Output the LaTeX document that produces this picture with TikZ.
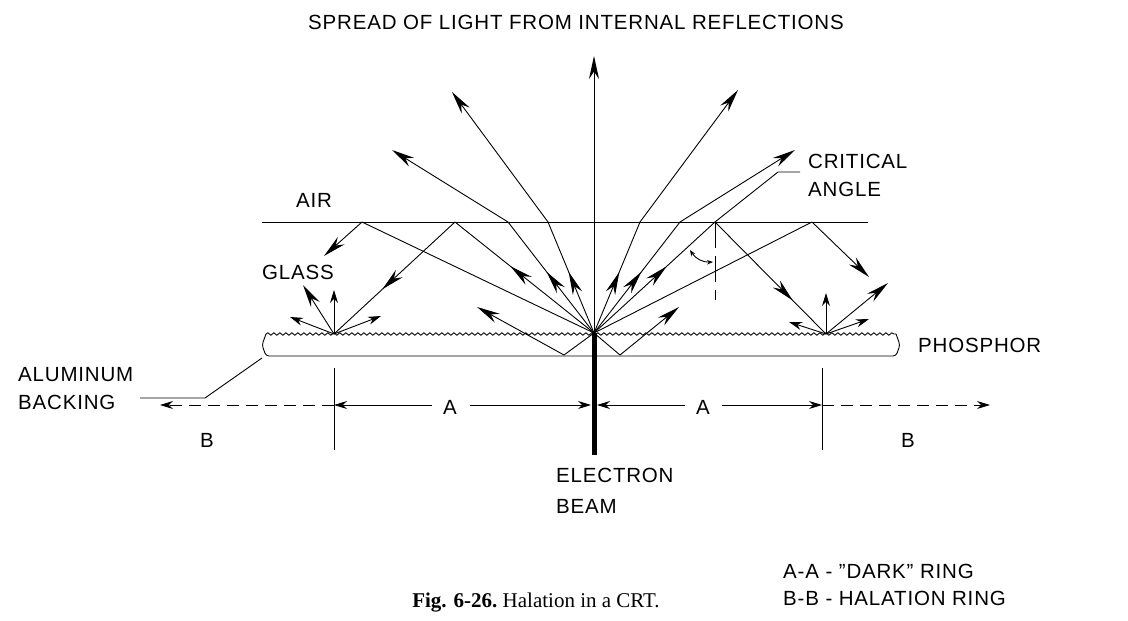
\documentclass[tikz,border=0pt]{standalone}
\usepackage{fontspec}
\setmainfont{Liberation Sans}[LetterSpace=4]
\newfontfamily\capfont{Liberation Serif}
\usetikzlibrary{positioning,arrows.meta,decorations.pathmorphing,decorations.markings}

\begin{document}
\begin{tikzpicture}[x=1pt,y=-1pt,
  ray/.style={line width=0.9pt},
  tip/.style={ray,-{Stealth[length=23pt,width=10pt]}},
  small/.style={ray,-{Stealth[length=13pt,width=8pt]}},
  mid/.style={ray,postaction={decorate},decoration={markings,
     mark=at position #1 with {\arrow{Stealth[length=23pt,width=10pt]}}}},
  lbl/.style={font=\fontsize{20.5}{22}\selectfont, align=left, inner sep=0pt},
]
\useasboundingbox (0,0) rectangle (1128,621);

% points
\coordinate (E) at (594,333);
\coordinate (R1) at (362,222);
\coordinate (R2) at (455,222);
\coordinate (R3) at (715,222);
\coordinate (R4) at (812,222);
\coordinate (S1) at (334,334);
\coordinate (S2) at (826,334);
\coordinate (B1) at (564,355);
\coordinate (B2) at (620,355);

% glass plate and phosphor
\draw[ray,rounded corners=3pt] (266,334) -- (262,345) -- (266,356) -- (896,356) -- (900,345) -- (896,334);
\draw[ray,decorate,decoration={snake,amplitude=1.2pt,segment length=6pt}] (266,334) -- (896,334);
\draw[line width=0.9pt] (262,222) -- (868,222);
\draw[line width=5pt] (594,333) -- (594,455);

% fan from the beam
\draw[tip] (E) -- (594,56);
\draw[mid=0.55] (E) -- (508,222);
\draw[tip] (508,222) -- (392,150);
\draw[mid=0.55] (E) -- (548,222);
\draw[tip] (548,222) -- (452,92);
\draw[mid=0.55] (E) -- (640,222);
\draw[tip] (640,222) -- (738,90);
\draw[mid=0.55] (E) -- (680,222);
\draw[tip] (680,222) -- (795,150);

% internal reflections
\draw[ray] (E) -- (R1);
\draw[tip] (R1) -- (324,256);
\draw[mid=0.6] (E) -- (R2);
\draw[mid=0.6] (R2) -- (S1);
\draw[ray] (E) -- (R4);
\draw[tip] (R4) -- (869,277);
\draw[mid=0.6] (E) -- (R3);
\draw[mid=0.7] (R3) -- (S2);
\draw[ray] (E) -- (B1);
\draw[tip] (B1) -- (477,307);
\draw[ray] (E) -- (B2);
\draw[tip] (B2) -- (679,307);

% scattered light at the spots
\draw[tip] (S1) -- (303,285);
\draw[small] (S1) -- (334,290);
\draw[small] (S1) -- (290,317);
\draw[small] (S1) -- (381,316);
\draw[tip] (S2) -- (888,283);
\draw[small] (S2) -- (826,293);
\draw[small] (S2) -- (789,322);
\draw[small] (S2) -- (869,319);

% critical angle
\draw[ray,dash pattern=on 26pt off 8pt on 26pt off 8pt] (R3) -- (715,300);
\draw[ray,{Stealth[length=6pt]}-{Stealth[length=6pt]}] (690,250) to[bend right=30] (713,262);

% labels
\node(title) [lbl] at (576,22) {SPREAD OF LIGHT FROM INTERNAL REFLECTIONS};
\node(air) [lbl,anchor=west] at (296,200) {AIR};
\node(glass) [lbl,anchor=west] at (262,272) {GLASS};
\node(crit) [lbl,anchor=west] at (808,175) {CRITICAL\\[6pt]ANGLE};
\coordinate (critl) at (800,172);
\draw[ray] (critl) -- (778,172) -- (R3);
\node(phos) [lbl,anchor=west] at (918,345) {PHOSPHOR};
\node(alu) [lbl,anchor=west] at (18,389) {ALUMINUM\\[6pt]BACKING};
\coordinate (alul) at (140,398);
\draw[ray] (alul) -- (205,398) -- (262,358);

% dimensions
\coordinate (T1) at (334,405);
\coordinate (T2) at (822,405);
\draw[ray] (334,368) -- (334,450);
\draw[ray] (822,368) -- (822,450);
\node(A1) [lbl] at (450,407) {A};
\node(A2) [lbl] at (703,407) {A};
\node(B1l) [lbl] at (207,440) {B};
\node(B2l) [lbl] at (908,440) {B};
\coordinate (A1w) at (432,405);
\coordinate (A1e) at (470,405);
\coordinate (A2w) at (685,405);
\coordinate (A2e) at (722,405);
\draw[small] (A1w) -- (T1);
\draw[small] (A1e) -- (591,405);
\draw[small] (A2w) -- (597,405);
\draw[small] (A2e) -- (T2);
\draw[small,dash pattern=on 12pt off 7pt] (T1) -- (160,405);
\draw[small,dash pattern=on 12pt off 7pt] (T2) -- (990,405);

\node(beam) [lbl,anchor=north west] at (556,468) {ELECTRON\\[9pt]BEAM};
\node(key) [lbl,anchor=north west] at (783,564) {A-A - "DARK" RING\\[5pt]B-B - HALATION RING};
\node(cap) [font=\fontsize{21}{23}\selectfont\capfont, inner sep=0pt] at (536,603)
  {\textbf{Fig. 6-26.}\ Halation in a CRT.};
\end{tikzpicture}
\end{document}
